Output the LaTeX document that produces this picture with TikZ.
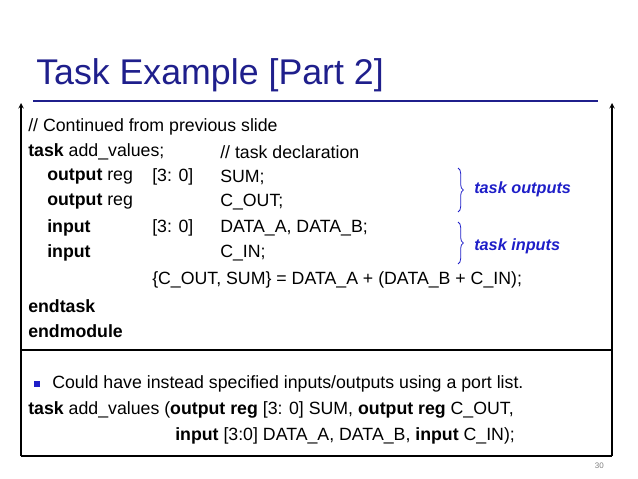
\documentclass[tikz,border=0pt]{standalone}
\usepackage{fontspec}
\setmainfont{Liberation Sans}
\usetikzlibrary{decorations.pathreplacing}
\definecolor{ttl}{RGB}{31,31,140}
\definecolor{brc}{RGB}{30,30,200}
\tikzset{code/.style={anchor=west,inner sep=0pt,font=\fontsize{13.3}{15}\selectfont},
 lbl/.style={anchor=west,inner sep=0pt,text=brc,font=\fontsize{12.2}{14}\selectfont\bfseries\itshape},
 br/.style={brc,semithick,decorate,decoration={brace,amplitude=4pt}}}
\begin{document}
\begin{tikzpicture}[x=0.75pt,y=-0.75pt]
\useasboundingbox (0,0) rectangle (638,478);
\node[anchor=west,inner sep=0pt,text=ttl,font=\fontsize{26.8}{29}\selectfont] (title) at (36,75) {Task Example [Part 2]};
\draw[ttl,line width=1pt] (33,101) -- (598,101);
\coordinate (tl) at (21,456); \coordinate (tlt) at (21,103);
\coordinate (tr) at (612,456); \coordinate (trt) at (612,103);
\draw[thick,-stealth] (tl) -- (tlt);
\draw[thick,-stealth] (tr) -- (trt);
\draw[thick] (tl) -- (tr);
\draw[thick] (21,350) -- (612,350);
\node[code] (l1) at (28,127) {// Continued from previous slide};
\node[code] (l2) at (28,152) {\textbf{task} add\_values;};
\node[code] (l2b) at (220,152) {// task declaration};
\node[code] (l3) at (47,177) {\textbf{output} reg};
\node[code] (l3b) at (152,177) {[3: 0]};
\node[code] (l3c) at (220,177) {SUM;};
\node[code] (l4) at (47,202) {\textbf{output} reg};
\node[code] (l4c) at (220,202) {C\_OUT;};
\node[code] (l5) at (47,228) {\textbf{input}};
\node[code] (l5b) at (152,228) {[3: 0]};
\node[code] (l5c) at (220,228) {DATA\_A, DATA\_B;};
\node[code] (l6) at (47,253) {\textbf{input}};
\node[code] (l6c) at (220,253) {C\_IN;};
\node[code] (l7) at (152,280) {\{C\_OUT, SUM\} = DATA\_A + (DATA\_B + C\_IN);};
\node[code] (l8) at (28,306) {\textbf{endtask}};
\node[code] (l9) at (28,331) {\textbf{endmodule}};
\draw[br] (458,168) -- (458,212);
\draw[br] (458,222) -- (458,264);
\node[lbl] (to) at (474,189) {task outputs};
\node[lbl] (ti) at (474,246) {task inputs};
\fill[brc] (34,381) rectangle (40,387);
\node[code] (b1) at (52,384) {Could have instead specified inputs/outputs using a port list.};
\node[code] (b2) at (28,410) {\textbf{task} add\_values (\textbf{output reg} [3: 0] SUM, \textbf{output reg} C\_OUT,};
\node[code] (b3) at (175,436) {\textbf{input} [3:0] DATA\_A, DATA\_B, \textbf{input} C\_IN);};
\node[anchor=east,inner sep=0pt,text=gray,font=\fontsize{6}{7}\selectfont] (pg) at (604,466) {30};
\end{tikzpicture}
\end{document}
